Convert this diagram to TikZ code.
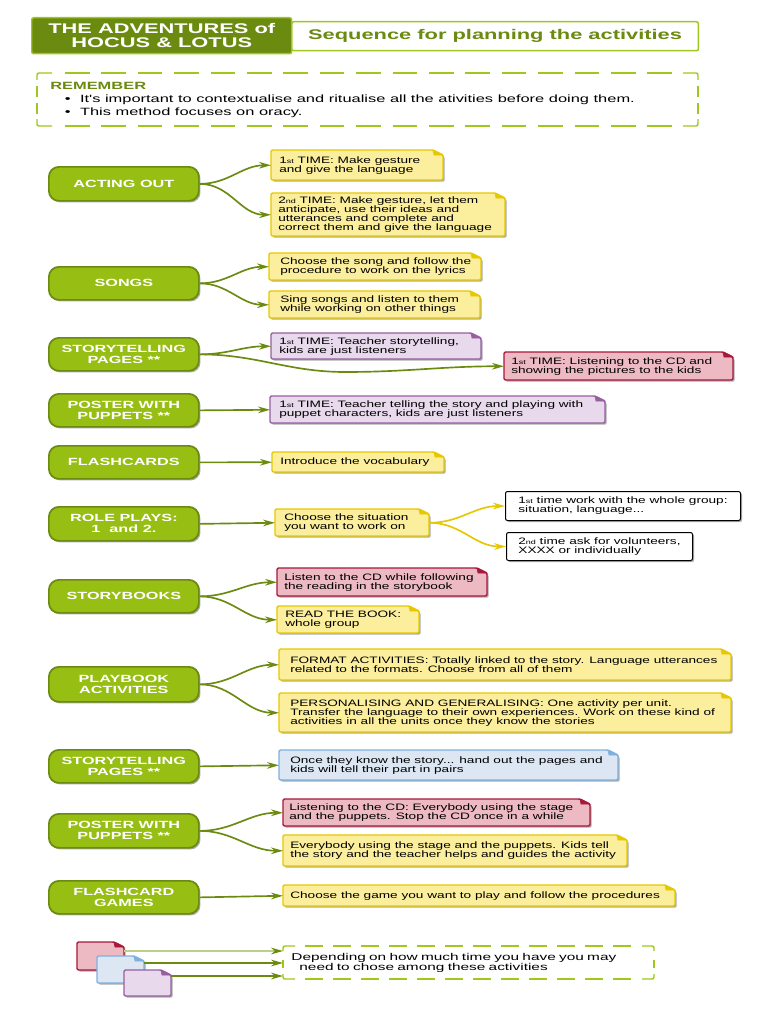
\documentclass[tikz,border=0pt]{standalone}
\usepackage{fontspec}
\setmainfont[FakeStretch=1.46]{Liberation Sans}
\newfontfamily\widefont[FakeStretch=1.56]{Liberation Sans}
\usetikzlibrary{arrows.meta,shadows}
\definecolor{ygfill}{HTML}{FBEE9C}\definecolor{ygline}{HTML}{E6C800}
\definecolor{pufill}{HTML}{E8D9EC}\definecolor{puline}{HTML}{96609E}
\definecolor{rdfill}{HTML}{EDB9C3}\definecolor{rdline}{HTML}{A8183A}
\definecolor{blfill}{HTML}{DDE7F3}\definecolor{blline}{HTML}{7FB0E0}
\definecolor{pillfill}{HTML}{97BE13}\definecolor{darkgr}{HTML}{6B8A10}
\definecolor{lightgr}{HTML}{A0C81C}\definecolor{palegr}{HTML}{BCD08A}
\tikzset{
 x=0.75pt,y=-0.75pt,
 softshadow/.style={drop shadow={shadow xshift=1.2pt,shadow yshift=-1.2pt,opacity=.33,fill=black}},
 yellownote/.style={fill=ygfill,draw=ygline},
 purplenote/.style={fill=pufill,draw=puline},
 rednote/.style={fill=rdfill,draw=rdline},
 bluenote/.style={fill=blfill,draw=blline},
 yellownotefold/.style={fill=ygline,draw=ygline},
 purplenotefold/.style={fill=puline,draw=puline},
 rednotefold/.style={fill=rdline,draw=rdline},
 bluenotefold/.style={fill=blline,draw=blline},
 notefont/.style={font=\fontsize{7}{6.85}\selectfont},
 pill/.style={draw=darkgr,fill=pillfill,line width=1.3pt,rounded corners=7.5pt,softshadow,minimum width=112.5pt,inner sep=0pt,align=center,text=white,font=\widefont\bfseries\fontsize{7.8}{8.25}\selectfont,anchor=north west},
 whitenote/.style={draw=black,fill=white,line width=.75pt,rounded corners=1.5pt,softshadow,inner sep=0pt,align=left,anchor=north west,notefont},
 link/.style={draw=darkgr,line width=1.25pt,-{Stealth[length=9pt,width=5pt]}},
 ylink/.style={draw=ygline,line width=1.25pt,-{Stealth[length=9pt,width=5pt]}},
 framepart/.style={draw=lightgr,line width=1.1pt,rounded corners=1.5pt},
 remh/.style={dash pattern=on 18.4pt off 8.9pt},
 remv/.style={dash pattern=on 8.2pt off 4.6pt},
 deph/.style={dash pattern=on 13.5pt off 7.5pt},
 depv/.style={dash pattern=on 6pt off 8pt},
}
% x0 y0 x1 y1 hcorner vcorner hgap vgap style-prefix
\newcommand{\dashframe}[9]{%
 \draw[framepart] (#1+#5,#2) -- (#1,#2) -- (#1,#2+#6);
 \draw[framepart] (#3-#5,#2) -- (#3,#2) -- (#3,#2+#6);
 \draw[framepart] (#1+#5,#4) -- (#1,#4) -- (#1,#4-#6);
 \draw[framepart] (#3-#5,#4) -- (#3,#4) -- (#3,#4-#6);
 \draw[framepart,#9h] (#1+#5+#7,#2) -- (#3-#5-2,#2);
 \draw[framepart,#9h] (#1+#5+#7,#4) -- (#3-#5-2,#4);
 \draw[framepart,#9v] (#1,#2+#6+#8) -- (#1,#4-#6-2);
 \draw[framepart,#9v] (#3,#2+#6+#8) -- (#3,#4-#6-2);
}
\newcommand{\notebox}[8][8]{%
 \pgfmathsetmacro{\nw}{(#5-#3)*0.75}\pgfmathsetmacro{\nh}{(#6-#4)*0.75}
 \pgfmathsetmacro{\nfx}{#5-10}\pgfmathsetmacro{\nfy}{#4+5}
 \pgfmathsetmacro{\nin}{#1*0.75}
 \draw[#7,line width=1.1pt,line join=round,softshadow,rounded corners=1pt] (#3,#4) -- (\nfx,#4) -- (#5,\nfy) -- (#5,#6) -- (#3,#6) -- cycle;
 \draw[#7fold,line width=.5pt] (\nfx,#4) -- (#5,\nfy) -- (\nfx+1,\nfy) -- cycle;
 \node[minimum width=\nw pt,minimum height=\nh pt,inner sep=0pt,anchor=north west] (#2) at (#3,#4) {};
 \node[inner sep=0pt,anchor=west,align=left,notefont,xshift=\nin pt] (#2text) at (#2.west) {#8};
}
\newcommand{\pillbox}[4]{%
 \pgfmathsetmacro{\nh}{(#3-#2)*0.75}
 \node[pill,minimum height=\nh pt] (#1) at (48,#2) {#4};
}
\newcommand{\ord}[1]{{\fontsize{4.6}{4.6}\selectfont #1}}
\begin{document}
\begin{tikzpicture}
\useasboundingbox (0,0) rectangle (768,1024);
% header
\node[draw=lightgr,fill=white,line width=1.1pt,rounded corners=1.5pt,minimum width=305pt,minimum height=21.75pt,inner sep=0pt,anchor=north west,text=darkgr,font=\widefont\bfseries\fontsize{10.5}{11}\selectfont] (subtitle) at (291,21) {Sequence for planning the activities};
\node[draw=lightgr,fill=darkgr,line width=1.1pt,rounded corners=1.5pt,minimum width=195pt,minimum height=27pt,inner sep=0pt,anchor=north west,align=center,text=white,font=\widefont\bfseries\fontsize{10.5}{10.5}\selectfont] (title) at (31,17) {THE ADVENTURES of\\HOCUS \& LOTUS};
% remember
\node[minimum width=495.75pt,minimum height=39.75pt,inner sep=0pt,anchor=north west] (remember) at (37,73) {};
\dashframe{37}{73}{698}{126}{15}{7}{13}{6}{rem}
\node[inner sep=0pt,anchor=north west,align=left,font=\widefont\fontsize{7.9}{9.75}\selectfont] (remembertext) at (50,82) {{\bfseries\color{darkgr}REMEMBER}\\
\hspace*{11pt}•\hspace{7pt}It's important to contextualise and ritualise all the ativities before doing them.\\
\hspace*{11pt}•\hspace{7pt}This method focuses on oracy.};
% pills
\pillbox{p1}{166}{200}{ACTING OUT}
\pillbox{p2}{266}{299}{SONGS}
\pillbox{p3}{337}{370}{STORYTELLING\\PAGES **}
\pillbox{p4}{393}{426}{POSTER WITH\\PUPPETS **}
\pillbox{p5}{445}{478}{FLASHCARDS}
\pillbox{p6}{506}{540}{ROLE PLAYS:\\1\ \ and 2.}
\pillbox{p7}{579}{612}{STORYBOOKS}
\pillbox{p8}{666}{701}{PLAYBOOK\\ACTIVITIES}
\pillbox{p9}{749}{782}{STORYTELLING\\PAGES **}
\pillbox{p10}{813}{847}{POSTER WITH\\PUPPETS **}
\pillbox{p11}{880}{913}{FLASHCARD\\GAMES}
% notes
\notebox{n1}{271}{150}{443}{180}{yellownote}{1\ord{st} TIME: Make gesture\\and give the language}
\notebox[7]{n2}{271}{193}{505}{236}{yellownote}{2\ord{nd} TIME: Make gesture, let them\\anticipate, use their ideas and\\utterances and complete and\\correct them and give the language}
\notebox[11]{n3}{269}{253}{481}{280}{yellownote}{Choose the song and follow the\\procedure to work on the lyrics}
\notebox[11]{n4}{269}{291}{480}{318}{yellownote}{Sing songs and listen to them\\while working on other things}
\notebox{n5}{271}{333}{481}{359}{purplenote}{1\ord{st} TIME: Teacher storytelling,\\kids are just listeners}
\notebox[7]{n6}{504}{352}{733}{380}{rednote}{1\ord{st} TIME: Listening to the CD and\\showing the pictures to the kids}
\notebox[9]{n7}{270}{396}{605}{423}{purplenote}{1\ord{st} TIME: Teacher telling the story and playing with\\puppet characters, kids are just listeners}
\notebox{n8}{272}{452}{444}{472}{yellownote}{Introduce the vocabulary}
\notebox[9]{n9}{275}{509}{429}{536}{yellownote}{Choose the situation\\you want to work on}
\notebox[7]{n12}{277}{568}{487}{596}{rednote}{Listen to the CD while following\\the reading in the storybook}
\notebox{n13}{277}{606}{419}{633}{yellownote}{READ THE BOOK:\\whole group}
\notebox[11]{n14}{279}{649}{731}{680}{yellownote}{FORMAT ACTIVITIES: Totally linked to the story. Language utterances\\related to the formats. Choose from all of them}
\notebox[11]{n15}{279}{693}{731}{732}{yellownote}{PERSONALISING AND GENERALISING: One activity per unit.\\Transfer the language to their own experiences. Work on these kind of\\activities in all the units once they know the stories}
\notebox[11]{n16}{279}{750}{618}{780}{bluenote}{Once they know the story... hand out the pages and\\kids will tell their part in pairs}
\notebox[6]{n17}{283}{799}{590}{826}{rednote}{Listening to the CD: Everybody using the stage\\and the puppets. Stop the CD once in a while}
\notebox[7]{n18}{283}{835}{627}{866}{yellownote}{Everybody using the stage and the puppets. Kids tell\\the story and the teacher helps and guides the activity}
\notebox[7]{n19}{283}{885}{675}{906}{yellownote}{Choose the game you want to play and follow the procedures}
% white notes
\node[whitenote,minimum width=176.25pt,minimum height=21.75pt] (n10) at (505,491) {1\ord{st} time work with the whole group:\\situation, language...};
\node[whitenote,minimum width=139.5pt,minimum height=21pt] (n11) at (506,532) {2\ord{nd} time ask for volunteers,\\XXXX or individually};
% connectors
\coordinate (dip) at (345,372);
\draw[link] (p1.east) to[out=0,in=180] (n1.west);
\draw[link] (p1.east) to[out=0,in=180] (n2.west);
\draw[link] (p2.east) to[out=0,in=180] (n3.west);
\draw[link] (p2.east) to[out=0,in=180] (n4.west);
\draw[link] (p3.east) to[out=0,in=180] (n5.west);
\draw[link] (p3.east) to[out=0,in=180] (dip) to[out=0,in=180] (n6.west);
\draw[link] (p4.east) to (n7.west);
\draw[link] (p5.east) to (n8.west);
\draw[link] (p6.east) to (n9.west);
\draw[ylink] (n9.east) to[out=0,in=180] (n10.west);
\draw[ylink] (n9.east) to[out=0,in=180] (n11.west);
\draw[link] (p7.east) to[out=0,in=180] (n12.west);
\draw[link] (p7.east) to[out=0,in=180] (n13.west);
\draw[link] (p8.east) to[out=0,in=180] (n14.west);
\draw[link] (p8.east) to[out=0,in=180] (n15.west);
\draw[link] (p9.east) to (n16.west);
\draw[link] (p10.east) to[out=0,in=180] (n17.west);
\draw[link] (p10.east) to[out=0,in=180] (n18.west);
\draw[link] (p11.east) to (n19.west);
% bottom
\dashframe{283}{946}{654}{979}{12}{5}{10}{9}{dep}
\node[minimum width=278.25pt,minimum height=24.75pt,inner ysep=0pt,inner xsep=6pt,anchor=north west,align=left,text width=266pt,font=\widefont\fontsize{7.4}{7.4}\selectfont] (dep) at (283,946) {Depending on how much time you have you may\\\hspace*{6pt}need to chose among these activities};
\notebox{k1}{77}{942}{124}{970}{rednote}{}
\notebox{k2}{97}{956}{144}{983}{bluenote}{}
\notebox{k3}{124}{970}{171}{996}{purplenote}{}
\coordinate (a1) at (283,951);\coordinate (a2) at (283,963);\coordinate (a3) at (283,976);
\coordinate (s1) at (124,951);\coordinate (s2) at (144,963);\coordinate (s3) at (171,976);
\draw[link,draw=palegr,-{Stealth[length=9pt,width=5pt,color=darkgr]}] (s1) -- (a1);
\draw[link] (s2) -- (a2);
\draw[link] (s3) -- (a3);
\end{tikzpicture}
\end{document}
